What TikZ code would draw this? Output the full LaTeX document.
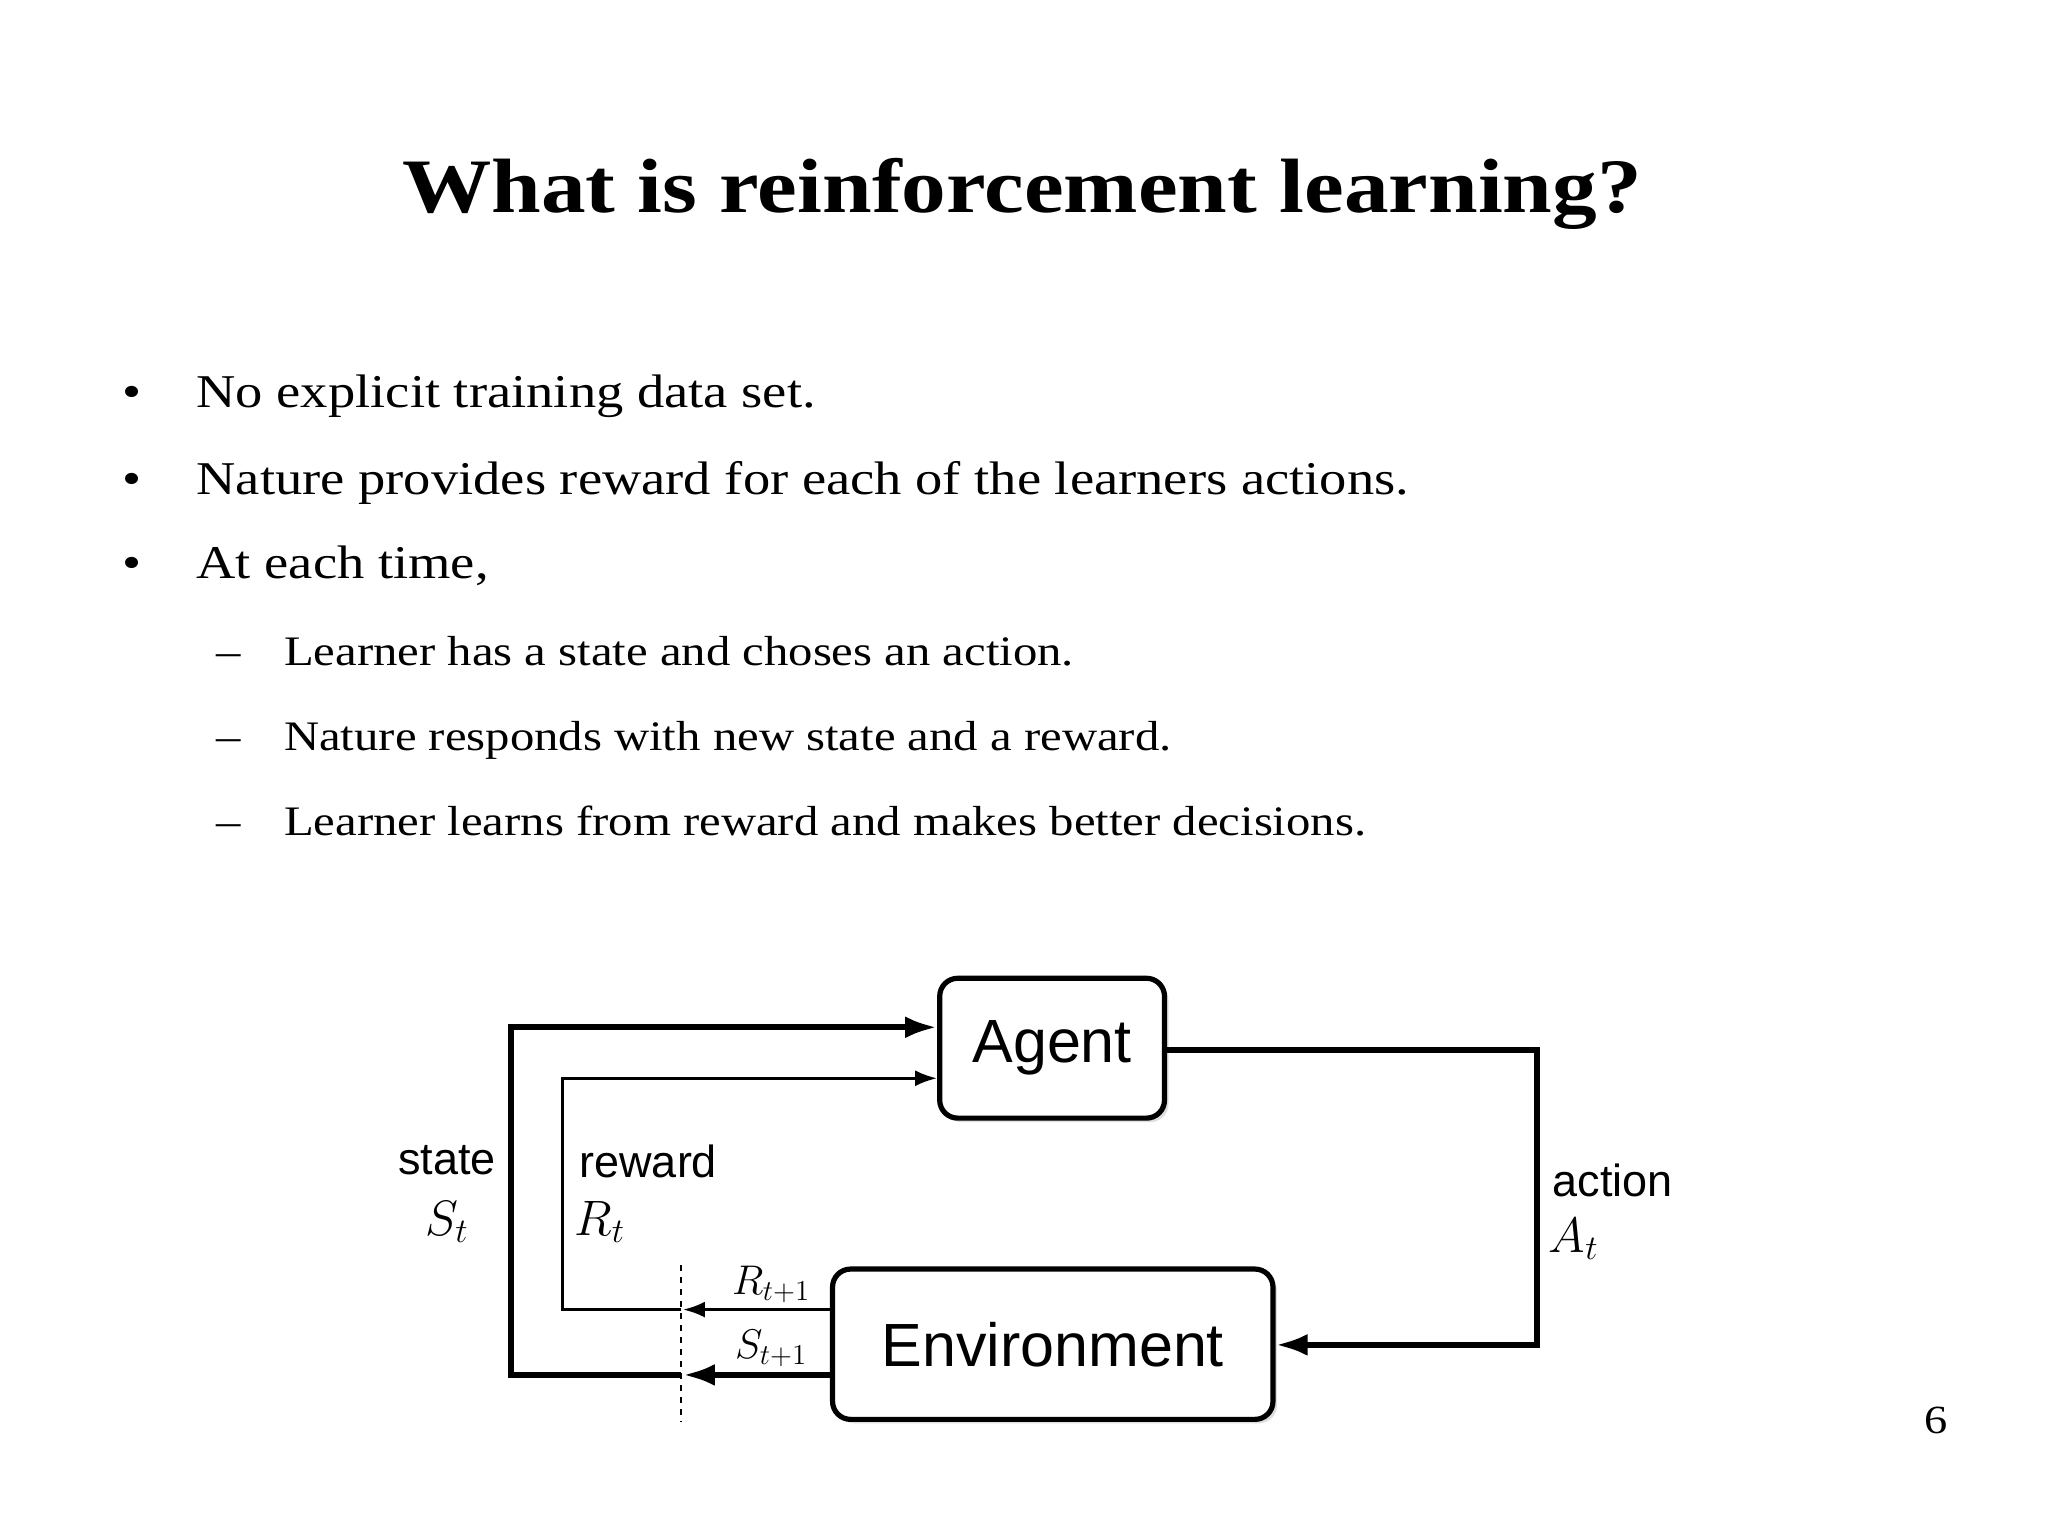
\documentclass[tikz,border=0pt]{standalone}
\usepackage{fontspec}
\setmainfont{Liberation Serif}[FakeStretch=1.16]
\newfontfamily\hv{Liberation Sans}
\usetikzlibrary{arrows.meta,shadows}
\begin{document}
\begin{tikzpicture}[x=0.6535pt,y=-0.6535pt,
  box/.style={draw,line width=2.6pt,rounded corners=9pt,fill=white,drop shadow={shadow xshift=2pt,shadow yshift=-2pt,opacity=0.25}},
  thick line/.style={line width=3pt},
  thin line/.style={line width=1.5pt},
  bigarr/.style={-{Latex[length=16pt,width=11pt]}},
  smallarr/.style={-{Latex[length=11pt,width=8pt]}},
  lab/.style={font=\hv\fontsize{22.5}{26}\selectfont},
  body/.style={anchor=base west,font=\fontsize{23.5}{28}\selectfont},
  sub/.style={anchor=base west,font=\fontsize{21}{26}\selectfont}]
\useasboundingbox[fill=white] (0,0) rectangle (1567,1175);
\node[font=\bfseries\fontsize{38.5}{44}\selectfont] (title) at (782,148) {What is reinforcement learning?};
\node[body] (b1) at (145,312) {No explicit training data set.};
\node[body] (b2) at (145,378) {Nature provides reward for each of the learners actions.};
\node[body] (b3) at (145,443) {At each time,};
\foreach \y/\n in {312/1,378/2,443/3} \node[body] (d\n) at (88,\y) {•};
\node[sub] (s1) at (212,509) {Learner has a state and choses an action.};
\node[sub] (s2) at (212,574) {Nature responds with new state and a reward.};
\node[sub] (s3) at (212,639) {Learner learns from reward and makes better decisions.};
\foreach \y/\n in {509/1,574/2,639/3} \node[sub] (e\n) at (160,\y) {–};

\node[box,minimum width=172*0.6535pt,minimum height=107*0.6535pt,font=\hv\fontsize{30.5}{34}\selectfont] (agent) at (805,802) {Agent};
\node[box,minimum width=337*0.6535pt,minimum height=115*0.6535pt,font=\hv\fontsize{30.5}{34}\selectfont] (env) at (805.5,1028.5) {Environment};

\coordinate (a1) at (1176,803);
\coordinate (a2) at (1176,1029);
\draw[thick line,bigarr] (agent.east |- a1) -- (a1) -- (a2) -- (env.east |- a2);

\coordinate (sT) at (521,1052);
\coordinate (sL) at (391,1052);
\coordinate (sU) at (391,786);
\draw[thick line,bigarr] (sT) -- (sL) -- (sU) -- (agent.west |- sU);
\coordinate (rT) at (521,1002);
\coordinate (rL) at (430,1002);
\coordinate (rU) at (430,825);
\draw[thin line,smallarr] (rT) -- (rL) -- (rU) -- (agent.west |- rU);
\draw[thick line,bigarr] (env.west |- sT) -- ([xshift=1pt]sT);
\draw[thin line,smallarr] (env.west |- rT) -- ([xshift=1pt]rT);
\coordinate (dt) at (521,968);
\coordinate (db) at (521,1088);
\draw[dashed,line width=1pt] (dt) -- (db);

\node[lab] (state) at (342,888) {state};
\node[font=\fontsize{25}{28}\selectfont] (St) at (342,935) {$S_t$};
\node[lab] (reward) at (496,889) {reward};
\node[font=\fontsize{25}{28}\selectfont] (Rt) at (459,935) {$R_t$};
\node[lab] (action) at (1234,903) {action};
\node[font=\fontsize{25}{28}\selectfont] (At) at (1204,948) {$A_t$};
\node[font=\fontsize{20}{24}\selectfont] (R1) at (590,983) {$R_{t+1}$};
\node[font=\fontsize{20}{24}\selectfont] (S1) at (590,1032) {$S_{t+1}$};
\node[font=\fontsize{20}{24}\selectfont] (pg) at (1481,1087) {6};
\end{tikzpicture}
\end{document}
